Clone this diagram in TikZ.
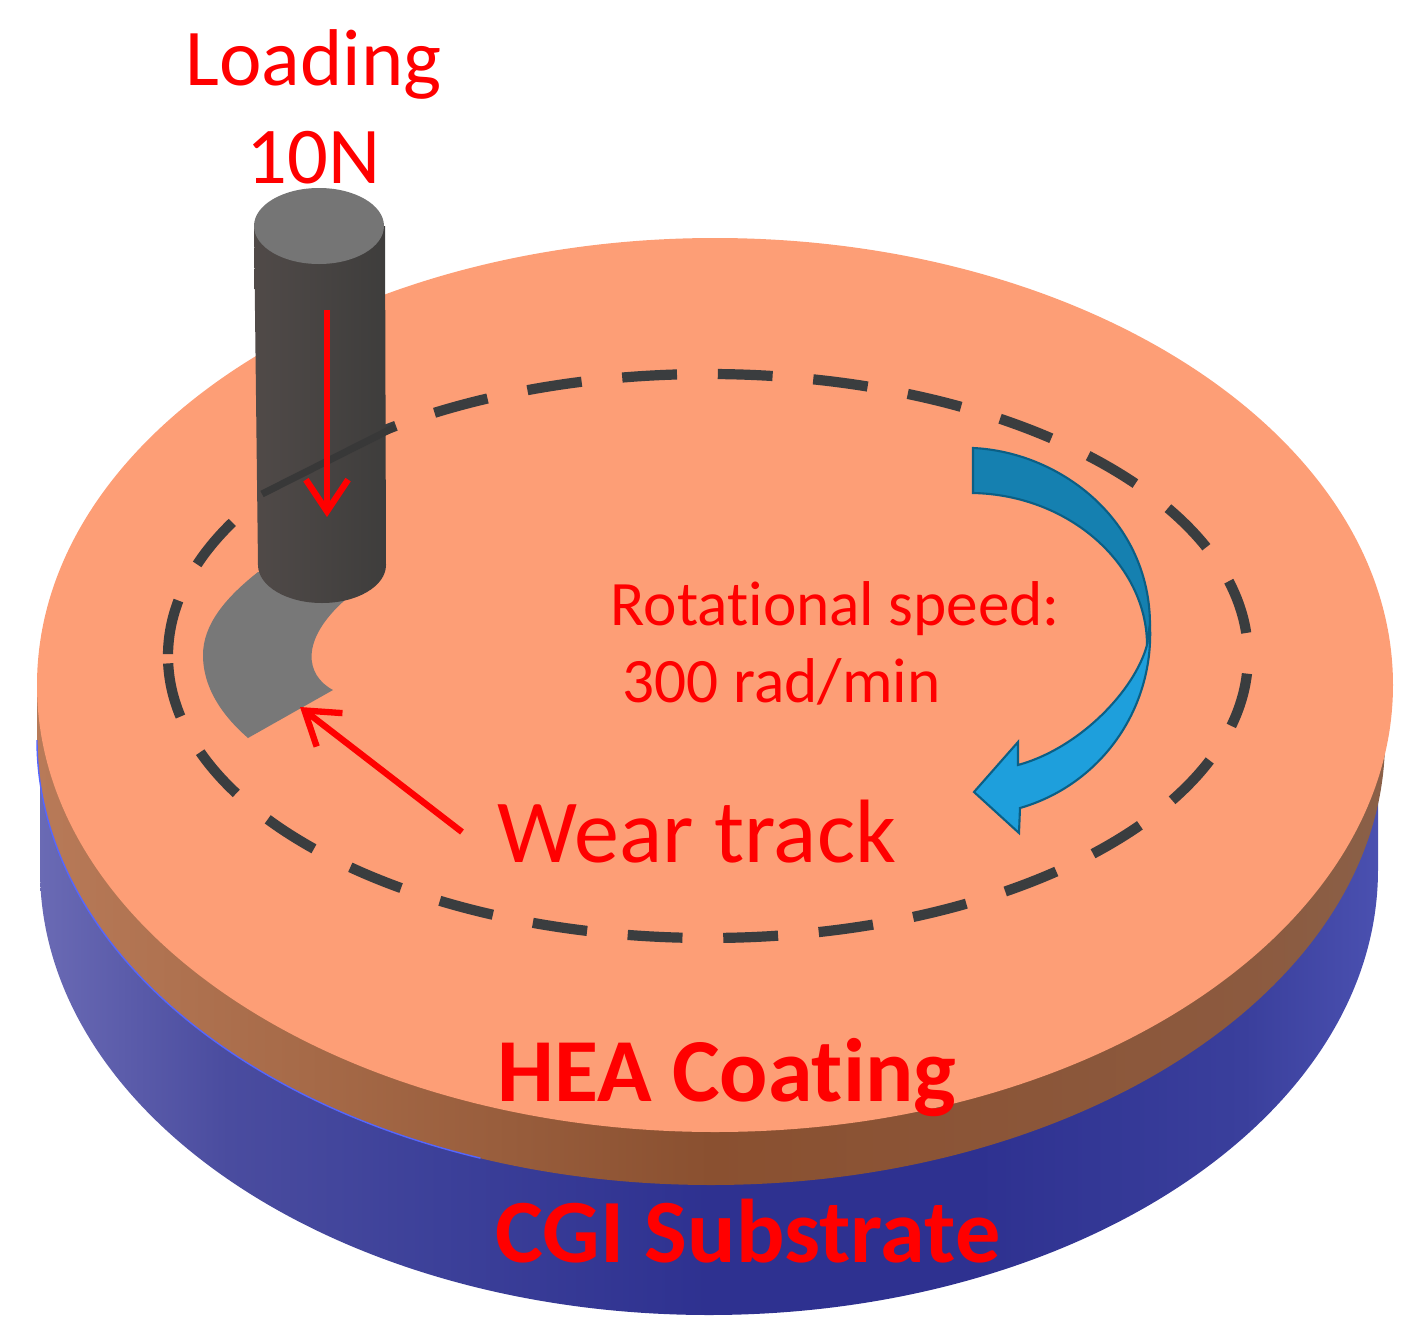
\documentclass[tikz,border=0pt]{standalone}
\usepackage{fontspec}
\setmainfont[Ligatures=NoCommon]{Carlito}
\usetikzlibrary{arrows.meta}
\definecolor{TopColor}{HTML}{FD9E76}
\definecolor{DashColor}{HTML}{3A3D3F}
\definecolor{WearColor}{HTML}{787878}
\definecolor{CapColor}{HTML}{757575}
\definecolor{BodyLeft}{HTML}{504A48}
\definecolor{BodyRight}{HTML}{3E3D3C}
\definecolor{StripColor}{HTML}{383838}
\definecolor{BlueA}{HTML}{6A6AB4}
\definecolor{BlueB}{HTML}{4A4C9F}
\definecolor{BlueC}{HTML}{3C4099}
\definecolor{BlueD}{HTML}{2E3190}
\definecolor{BlueE}{HTML}{3A3F9C}
\definecolor{BlueF}{HTML}{4A50B0}
\definecolor{BlueLine}{HTML}{5566FF}
\definecolor{BrownA}{HTML}{B87A58}
\definecolor{BrownB}{HTML}{A66A48}
\definecolor{BrownC}{HTML}{8A5030}
\definecolor{BrownD}{HTML}{8C5A3F}
\definecolor{BrownE}{HTML}{8A6048}
\definecolor{ArrowDark}{HTML}{1580B0}
\definecolor{ArrowLight}{HTML}{1E9FDC}
\definecolor{ArrowEdge}{HTML}{0B5F85}
\pgfdeclarehorizontalshading{BlueSide}{100bp}{color(0bp)=(BlueA); color(25bp)=(BlueA); color(32bp)=(BlueB); color(40bp)=(BlueC); color(50bp)=(BlueD); color(60bp)=(BlueD); color(70bp)=(BlueE); color(75bp)=(BlueF); color(100bp)=(BlueF)}
\pgfdeclarehorizontalshading{BrownSide}{100bp}{color(0bp)=(BrownA); color(25bp)=(BrownA); color(35bp)=(BrownB); color(50bp)=(BrownC); color(70bp)=(BrownD); color(75bp)=(BrownE); color(100bp)=(BrownE)}

\begin{document}
\begin{tikzpicture}[x=0.01cm,y=-0.01cm]
   \tikzset{LabelStyle/.style={anchor=base west,inner sep=0pt,text=red}}
   \tikzset{ForceStyle/.style={red,line width=1.8pt,-{Straight Barb[length=9pt,width=12pt]}}}
   \tikzset{RibbonStyle/.style={draw=ArrowEdge,line width=0.6pt}}
   \useasboundingbox (0,0) rectangle (1408,1342);
   \shade[shading=BlueSide]
      (40,870) arc (180:0:669 and 445) -- (1378,700) -- (40,700) -- cycle;
   \shade[shading=BrownSide]
      (37,740) arc (180:0:674 and 445) -- (1385,690) -- (37,690) -- cycle;
   \draw[BlueLine,line width=0.4pt] (37,740) arc (180:110:674 and 445);
   \fill[TopColor] (715,685) circle[x radius=678,y radius=447];
   \draw[DashColor,line width=2.9pt,dash pattern=on 15.6pt off 11.6pt,dash phase=25.1pt] (168,656) arc (180:-180:540 and 282);
   \fill[WearColor] (258,572) .. controls (225,598) and (203,625) .. (203,655)
      .. controls (203,690) and (225,718) .. (248,738) -- (333,690)
      .. controls (305,675) and (300,640) .. (345,600) -- (300,580) -- cycle;
   \shade[left color=BodyLeft,right color=BodyRight]
      (254,226) -- (258,565) arc (180:0:64 and 38) -- (385,226) -- cycle;
   \fill[CapColor] (319,226) circle[x radius=65,y radius=38];
   \coordinate (stripa) at (262,494);
   \coordinate (stripb) at (395,427);
   \draw[StripColor,line width=2pt] (stripa) -- (stripb);
   \coordinate (forcea) at (327,310);
   \coordinate (forceb) at (327,517);
   \draw[ForceStyle] (forcea) -- (forceb);
   \fill[ArrowDark,RibbonStyle] (973,448) .. controls (1060,452) and (1150,520) .. (1150,625)
      -- (1147,645) .. controls (1147,565) and (1070,495) .. (973,493) -- cycle;
   \fill[ArrowLight,RibbonStyle] (1150,625) .. controls (1154,710) and (1100,785) .. (1020,808)
      -- (1019,833) -- (974,792) -- (1018,742) -- (1018,765)
      .. controls (1080,748) and (1135,690) .. (1147,645) -- cycle;
   \node[LabelStyle,font=\fontsize{22.9}{27}\selectfont] (loading) at (185,85) {Loading};
   \node[LabelStyle,font=\fontsize{22.9}{27}\selectfont] (force) at (246,183) {10N};
   \node[LabelStyle,font=\fontsize{18}{21}\selectfont] (rotation) at (610,625) {Rotational speed:};
   \node[LabelStyle,font=\fontsize{18}{21}\selectfont] (speed) at (622,702) {300 rad/min};
   \node[LabelStyle,font=\fontsize{25.6}{30}\selectfont] (wear) at (497,862) {Wear track};
   \node[LabelStyle,font=\fontsize{25.6}{30}\selectfont\bfseries] (coating) at (497,1101) {HEA Coating};
   \node[LabelStyle,font=\fontsize{25.7}{30}\selectfont\bfseries] (substrate) at (495,1262) {CGI Substrate};
   \coordinate (tracktail) at (462,832);
   \coordinate (trackhead) at (300,707);
   \draw[ForceStyle] (tracktail) -- (trackhead);
\end{tikzpicture}
\end{document}
